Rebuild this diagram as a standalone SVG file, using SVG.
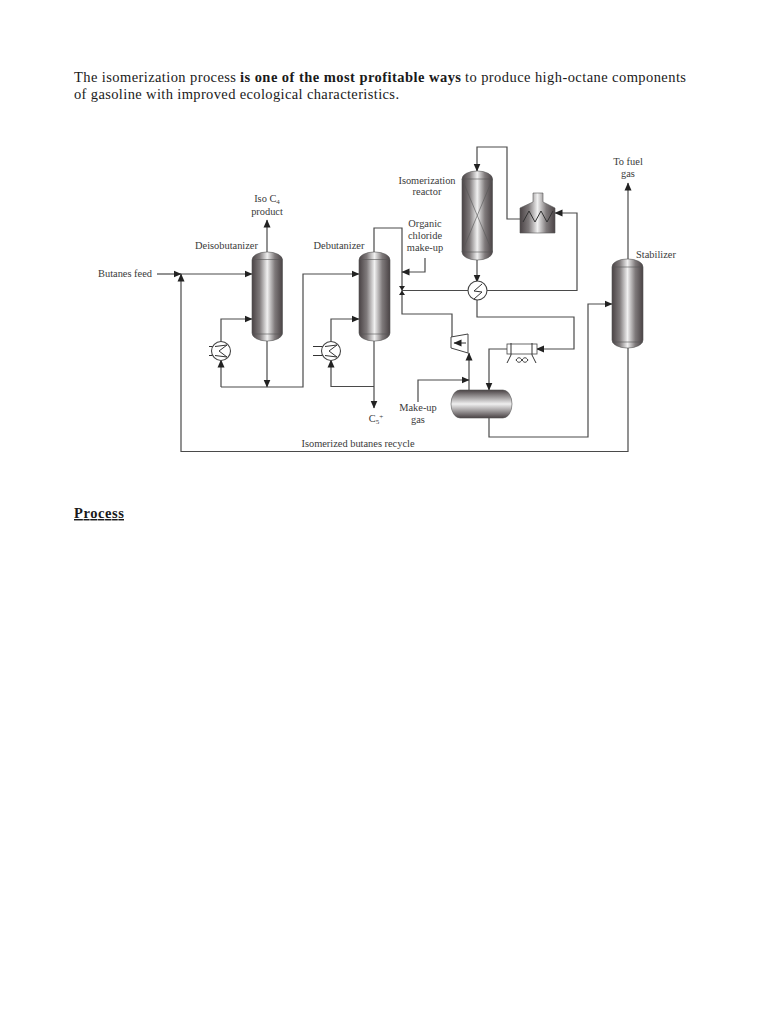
<svg xmlns="http://www.w3.org/2000/svg" width="768" height="1024" viewBox="0 0 768 1024">
<style>
.t{font-family:"Liberation Serif",serif;font-size:14.500px;fill:#1a1a1a}
.b{font-weight:bold}
.l{font-family:"Liberation Serif",serif;font-size:10.400px;fill:#3a3a3a;text-anchor:middle}
.c{fill:none;stroke:#4a4a4a;stroke-width:1.2}
.v{stroke:#555;stroke-width:.6}
.s{fill:none;stroke:#333;stroke-width:1}
.x{fill:#fff;stroke:#444;stroke-width:1.100}
</style>
<defs>
<linearGradient id="g"><stop offset="0" stop-color="#4a4345"/><stop offset=".25" stop-color="#7f7a7b"/><stop offset=".5" stop-color="#f0f0f0"/><stop offset=".75" stop-color="#7f7a7b"/><stop offset="1" stop-color="#4a4345"/></linearGradient>
<linearGradient id="h" x2="0" y2="1"><stop offset="0" stop-color="#4a4345"/><stop offset=".5" stop-color="#efefef"/><stop offset="1" stop-color="#4a4345"/></linearGradient>
<marker id="a" markerWidth="9" markerHeight="8" refX="7.500" refY="4" orient="auto" markerUnits="userSpaceOnUse"><path d="M0 0.500L8 4L0 7.500Z" fill="#222"/></marker>
</defs>
<g id="intro">
<text class="t" x="74" y="82" textLength="162">The isomerization process</text>
<text class="t b" x="240" y="82" textLength="221">is one of the most profitable ways</text>
<text class="t" x="465" y="82" textLength="221">to produce high-octane components</text>
<text class="t" x="74" y="99" textLength="325">of gasoline with improved ecological characteristics.</text>
</g>
<text id="process" class="t b" x="74" y="518" textLength="50" text-decoration="underline">Process</text>
<g id="connectors" class="c">
<path d="M157 274H181" marker-end="url(#a)"/>
<path d="M181 274H252" marker-end="url(#a)"/>
<path d="M628 348V451.500H181V274" marker-end="url(#a)"/>
<path d="M267 252V220" marker-end="url(#a)"/>
<path d="M267 341V387" marker-end="url(#a)"/>
<path d="M221 387H303V274H359" marker-end="url(#a)"/>
<path d="M221 387V360" marker-end="url(#a)"/>
<path d="M221 342V319H252" marker-end="url(#a)"/>
<path d="M374 341V408" marker-end="url(#a)"/>
<path d="M374 386.500H331V360" marker-end="url(#a)"/>
<path d="M331 342V319H359" marker-end="url(#a)"/>
<path d="M374 252V228H402V314H452V340"/>
<path d="M425 258V272H402" marker-end="url(#a)"/>
<path d="M468 290.500H402"/>
<path d="M486.500 290.500H577V213H555" marker-end="url(#a)"/>
<path d="M520 219H507V147H477V171" marker-end="url(#a)"/>
<path d="M477 260V282" marker-end="url(#a)"/>
<path d="M477 300V317H574V349H536.500" marker-end="url(#a)"/>
<path d="M507 349H489V390" marker-end="url(#a)"/>
<path d="M489 418V437H588V304H612" marker-end="url(#a)"/>
<path d="M469 390V353" marker-end="url(#a)"/>
<path d="M418 402V380H469" marker-end="url(#a)"/>
<path d="M628 259V183" marker-end="url(#a)"/>
</g>
<g id="feed-label"><text class="l" x="125" y="276.500">Butanes feed</text></g>
<g id="iso-c4-label"><text class="l" x="267" y="202">Iso C<tspan font-size="7" dy="2">4</tspan></text><text class="l" x="267" y="215">product</text></g>
<g id="deisobutanizer">
<rect class="v" x="252" y="252" width="30.500" height="89" rx="15" ry="8" fill="url(#g)"/>
<path class="v" d="M252 259.500H282.500M252 334H282.500"/>
<text class="l" x="226.500" y="249">Deisobutanizer</text>
</g>
<g id="debutanizer">
<rect class="v" x="359" y="252" width="31" height="89" rx="15" ry="8" fill="url(#g)"/>
<path class="v" d="M359 259.500H390M359 334H390"/>
<text class="l" x="339" y="249">Debutanizer</text>
</g>
<g id="reboiler-1">
<path class="s" d="M209 346.500H215M209 355.500H215"/>
<circle class="x" cx="221" cy="351" r="9.500"/>
<path class="s" d="M215 346.500L227 345L219 351L227 357L215 355.500"/>
</g>
<g id="reboiler-2">
<path class="s" d="M313 346.500H325M313 355.500H325"/>
<circle class="x" cx="331" cy="351" r="9.500"/>
<path class="s" d="M325 346.500L337 345L329 351L337 357L325 355.500"/>
</g>
<g id="c5-label"><text class="l" x="376" y="421.500">C<tspan font-size="7" dy="2">5</tspan><tspan font-size="7" dy="-5">+</tspan></text></g>
<g id="reactor">
<rect class="v" x="462" y="171" width="30.500" height="89" rx="15" ry="8" fill="url(#g)"/>
<path class="v" d="M462 179H492.500M462 252H492.500M462 179L492.500 252M492.500 179L462 252"/>
<text class="l" x="427" y="184">Isomerization</text><text class="l" x="427" y="195">reactor</text>
</g>
<g id="heater">
<path d="M520 233V208L533 202V193H543V202L555 208V233Z" fill="url(#g)" stroke="#555" stroke-width=".6"/>
<path class="s" d="M523 222L529 211L535 222L541 211L547 222L553 211"/>
</g>
<g id="organic-label"><text class="l" x="425" y="227">Organic</text><text class="l" x="425" y="239">chloride</text><text class="l" x="425" y="251">make-up</text></g>
<g id="exchanger">
<circle class="x" cx="477.500" cy="290.500" r="9.500"/>
<path class="s" d="M482 284L474 291L482 292L474 299"/>
</g>
<g id="valve"><path d="M399 286H405L399 295H405Z" fill="#222"/></g>
<g id="compressor">
<path d="M451 337L468 334V353L451 348Z" fill="#fff" stroke="#444" stroke-width="1"/>
<path d="M466 343H454" class="s" marker-end="url(#a)"/>
</g>
<g id="air-cooler">
<rect x="507" y="344" width="30" height="10" fill="#fff" stroke="#444" stroke-width=".8"/>
<path class="s" d="M511 343V355M532 343V355M511 355L507 363M532 355L536 363"/>
<path class="s" d="M516 360C518 357 520 357 522 360C524 363 526 363 528 360C526 357 524 357 522 360C520 363 518 363 516 360Z"/>
</g>
<g id="drum">
<rect class="v" x="451" y="390" width="61" height="28" rx="9" ry="14" fill="url(#h)"/>
</g>
<g id="makeup-label"><text class="l" x="418" y="411">Make-up</text><text class="l" x="418" y="423">gas</text></g>
<g id="stabilizer">
<rect class="v" x="612" y="259" width="31" height="89" rx="15" ry="8" fill="url(#g)"/>
<path class="v" d="M612 267H643M612 342H643"/>
<text class="l" x="656" y="258">Stabilizer</text>
</g>
<g id="fuel-label"><text class="l" x="628" y="165">To fuel</text><text class="l" x="628" y="177">gas</text></g>
<g id="recycle-label"><text class="l" x="358" y="447">Isomerized butanes recycle</text></g>
</svg>
